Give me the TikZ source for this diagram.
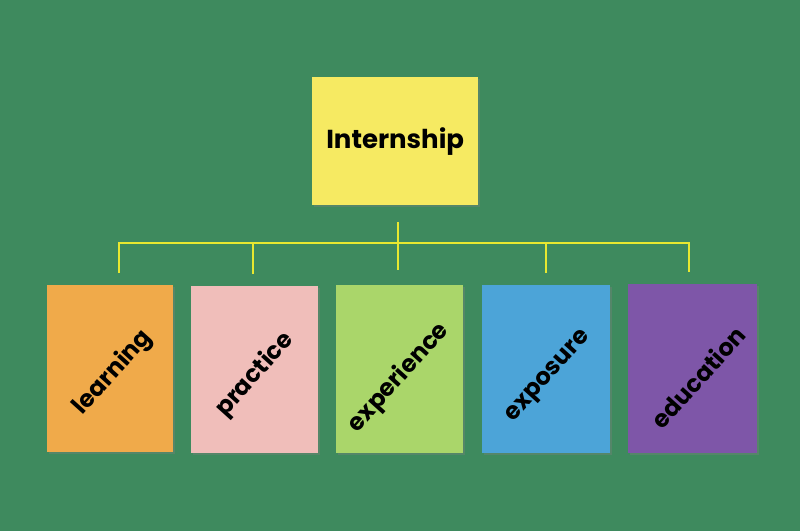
\documentclass[tikz,border=0pt]{standalone}
\usepackage{fontspec}
\setmainfont{Poppins}
\usetikzlibrary{shadows}
\definecolor{board}{RGB}{62,138,94}
\definecolor{wireyel}{RGB}{232,232,48}
\definecolor{noteyel}{RGB}{246,234,98}
\definecolor{noteora}{RGB}{240,170,74}
\definecolor{notepink}{RGB}{240,190,186}
\definecolor{notegrn}{RGB}{170,214,106}
\definecolor{noteblu}{RGB}{76,164,216}
\definecolor{notepur}{RGB}{126,86,168}
\begin{document}
\begin{tikzpicture}[x=1pt,y=-1pt,
  note/.style={rectangle,anchor=north west,inner sep=0pt,drop shadow={shadow xshift=1.5pt,shadow yshift=-2pt,opacity=.35}},
  word/.style={font=\bfseries\fontsize{24}{28}\selectfont,text=black,rotate=48},
  wire/.style={wireyel,line width=2.2pt}]
\fill[board] (0,0) rectangle (800,531);
% notes
\node[note,fill=noteyel,minimum width=166pt,minimum height=128pt] (top) at (312,77) {};
\node[note,fill=noteora,minimum width=126pt,minimum height=167pt] (learn) at (47,285) {};
\node[note,fill=notepink,minimum width=127pt,minimum height=167pt] (pract) at (191,286) {};
\node[note,fill=notegrn,minimum width=127pt,minimum height=168pt] (exper) at (336,285) {};
\node[note,fill=noteblu,minimum width=128pt,minimum height=168pt] (expos) at (482,285) {};
\node[note,fill=notepur,minimum width=129pt,minimum height=169pt] (educ) at (628,284) {};
% labels
\node[font=\bfseries\fontsize{26}{30}\selectfont] (ttop) at (top.center) {Internship};
\node[word] (tlearn) at (113,373) {learning};
\node[word] (tpract) at (255,375) {practice};
\node[word] (texper) at (399,378) {experience};
\node[word] (texpos) at (549,377) {exposure};
\node[word] (teduc) at (698,377) {education};
% tree
\coordinate (busL) at (119,243);
\coordinate (busR) at (689,243);
\draw[wire] ([yshift=-17pt]top.south -| 398,0) -- ([yshift=15pt]exper.north -| 398,0);
\draw[wire] ([yshift=12pt]learn.north -| busL) -- (busL) -- (busR) -- ([yshift=12pt]educ.north -| busR);
\draw[wire] ([yshift=12pt]pract.north -| 253,0) -- (253,243);
\draw[wire] ([yshift=12pt]expos.north -| 546,0) -- (546,243);
\end{tikzpicture}
\end{document}
